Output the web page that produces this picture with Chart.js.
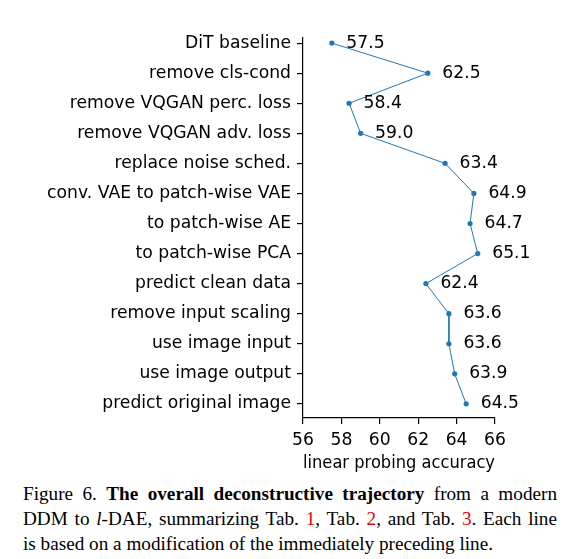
<!DOCTYPE html>
<html>
<head>
<meta charset="utf-8">
<script src="https://cdn.jsdelivr.net/npm/chart.js@4.4.1/dist/chart.umd.min.js"></script>
<style>
  body { margin: 0; background: #fff; }
  #wrap { position: relative; width: 565px; height: 559px; }
  #graph { position: absolute; left: 0; top: 0; }
  #caption {
    position: absolute; left: 23px; top: 481px; width: 534px;
    font-family: "Liberation Serif", "Times New Roman", serif;
    font-size: 19.2px; line-height: 25px; color: #000;
  }
  #caption .line { white-space: nowrap; }
  #caption .just { text-align: justify; text-align-last: justify; white-space: normal; }
  .ref { color: #e8000b; }
</style>
</head>
<body>
<div id="wrap">
  <canvas id="graph" width="565" height="475"></canvas>
  <div id="caption">
    <div class="line just">Figure 6. <b>The overall deconstructive trajectory</b> from a modern</div>
    <div class="line just">DDM to <i>l</i>-DAE, summarizing Tab. <span class="ref">1</span>, Tab. <span class="ref">2</span>, and Tab. <span class="ref">3</span>. Each line</div>
    <div class="line">is based on a modification of the immediately preceding line.</div>
  </div>
</div>
<script>
// steg i trajectory, ovenfra og ned
const steps = [
  "DiT baseline",
  "remove cls-cond",
  "remove VQGAN perc. loss",
  "remove VQGAN adv. loss",
  "replace noise sched.",
  "conv. VAE to patch-wise VAE",
  "to patch-wise AE",
  "to patch-wise PCA",
  "predict clean data",
  "remove input scaling",
  "use image input",
  "use image output",
  "predict original image"
];

// linear probing accuracy for hvert steg
const accuracy = [57.5, 62.5, 58.4, 59.0, 63.4, 64.9, 64.7, 65.1, 62.4, 63.6, 63.6, 63.9, 64.5];

const xTicks = [56, 58, 60, 62, 64, 66];
const xTitle = "linear probing accuracy";

const font = { family: "'DejaVu Sans', sans-serif", size: 17.2 };

// skriver verdien ved siden av hvert punkt
const valueLabels = {
  id: 'valueLabels',
  afterDatasetsDraw(chart) {
    const ctx = chart.ctx;
    const meta = chart.getDatasetMeta(0);
    ctx.save();
    ctx.font = font.size + "px " + font.family;
    ctx.fillStyle = '#000';
    ctx.textAlign = 'left';
    ctx.textBaseline = 'middle';
    meta.data.forEach(function(pt, i) {
      ctx.fillText(accuracy[i].toFixed(1), pt.x + 14.5, pt.y);
    });
    ctx.restore();
  }
};

const ctx = document.getElementById('graph').getContext('2d');
new Chart(ctx, {
  type: 'line',
  data: {
    datasets: [{
      data: accuracy.map((v, i) => ({ x: v, y: i })),
      borderColor: '#1f77b4',
      backgroundColor: '#1f77b4',
      borderWidth: 1,
      pointRadius: 2.6,
      pointBorderWidth: 0,
      tension: 0
    }]
  },
  options: {
    responsive: false,
    animation: false,
    devicePixelRatio: 1,
    layout: { padding: { left: 0, top: 38, right: 70, bottom: 0 } },
    plugins: { legend: { display: false }, tooltip: { enabled: false } },
    scales: {
      x: {
        type: 'linear',
        min: 56, max: 66,
        afterBuildTicks: (s) => { s.ticks = xTicks.map(v => ({ value: v })); },
        afterFit: (s) => { s.height = 57; },
        grid: { drawOnChartArea: false, drawTicks: true, tickLength: 6, color: '#000', lineWidth: 1.2 },
        border: { display: true, color: '#000', width: 1.2 },
        ticks: { font: font, color: '#000', padding: 6, maxRotation: 0 },
        title: { display: true, text: xTitle, font: font, color: '#000', padding: { top: 4, bottom: 1 } }
      },
      y: {
        type: 'linear',
        reverse: true,
        min: -0.17, max: 12.47,
        afterBuildTicks: (s) => { s.ticks = steps.map((_, i) => ({ value: i })); },
        afterFit: (s) => { s.width = 303; },
        grid: { drawOnChartArea: false, drawTicks: true, tickLength: 6, color: '#000', lineWidth: 1.2 },
        border: { display: true, color: '#000', width: 1.2 },
        ticks: { font: font, color: '#000', padding: 6, callback: (v) => steps[v] }
      }
    }
  },
  plugins: [valueLabels]
});
</script>
</body>
</html>
